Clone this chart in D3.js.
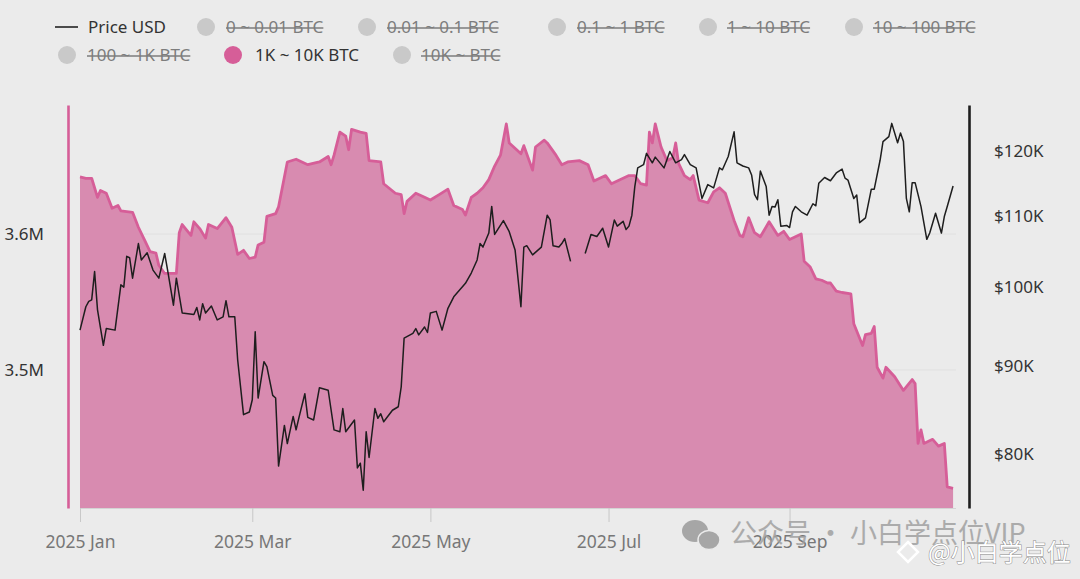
<!DOCTYPE html>
<html><head><meta charset="utf-8">
<script src="https://cdn.jsdelivr.net/npm/d3@7"></script>
<style>
html,body{margin:0;padding:0;background:#ebebeb;}
svg{display:block;font-family:"Noto Sans","Open Sans",sans-serif;}
</style></head><body>
<svg id="chart" width="1080" height="579"></svg>
<script>
// Holdings of the 1K ~ 10K BTC cohort (millions of BTC)
const holdDates = ["2025-01-01","2025-01-03","2025-01-05","2025-01-07","2025-01-08","2025-01-10","2025-01-12","2025-01-14","2025-01-15","2025-01-19","2025-01-21","2025-01-23","2025-01-25","2025-01-27","2025-01-28","2025-01-30","2025-02-03","2025-02-04","2025-02-05","2025-02-08","2025-02-09","2025-02-11","2025-02-13","2025-02-14","2025-02-17","2025-02-20","2025-02-22","2025-02-24","2025-02-26","2025-02-28","2025-03-02","2025-03-03","2025-03-05","2025-03-06","2025-03-09","2025-03-10","2025-03-13","2025-03-16","2025-03-20","2025-03-24","2025-03-27","2025-03-28","2025-03-29","2025-03-31","2025-04-02","2025-04-03","2025-04-04","2025-04-07","2025-04-09","2025-04-10","2025-04-14","2025-04-15","2025-04-19","2025-04-21","2025-04-22","2025-04-23","2025-04-26","2025-04-29","2025-05-01","2025-05-04","2025-05-07","2025-05-09","2025-05-12","2025-05-13","2025-05-15","2025-05-17","2025-05-19","2025-05-21","2025-05-23","2025-05-25","2025-05-27","2025-05-28","2025-05-31","2025-06-01","2025-06-02","2025-06-05","2025-06-06","2025-06-09","2025-06-10","2025-06-13","2025-06-15","2025-06-17","2025-06-21","2025-06-24","2025-06-26","2025-06-30","2025-07-02","2025-07-04","2025-07-08","2025-07-10","2025-07-12","2025-07-14","2025-07-15","2025-07-16","2025-07-17","2025-07-19","2025-07-21","2025-07-23","2025-07-24","2025-07-25","2025-07-27","2025-07-29","2025-07-30","2025-08-01","2025-08-04","2025-08-06","2025-08-08","2025-08-10","2025-08-13","2025-08-15","2025-08-16","2025-08-18","2025-08-20","2025-08-22","2025-08-25","2025-08-28","2025-08-30","2025-09-01","2025-09-05","2025-09-06","2025-09-08","2025-09-10","2025-09-12","2025-09-14","2025-09-15","2025-09-17","2025-09-19","2025-09-22","2025-09-23","2025-09-26","2025-09-27","2025-09-29","2025-09-30","2025-10-01","2025-10-03","2025-10-04","2025-10-07","2025-10-10","2025-10-13","2025-10-14","2025-10-15","2025-10-16","2025-10-17","2025-10-20","2025-10-22","2025-10-24","2025-10-25","2025-10-27"];
const holdValues = [3.642,3.641,3.641,3.627,3.632,3.630,3.619,3.621,3.617,3.616,3.605,3.596,3.587,3.586,3.577,3.571,3.571,3.601,3.607,3.599,3.609,3.604,3.597,3.607,3.604,3.612,3.605,3.585,3.588,3.582,3.583,3.592,3.594,3.613,3.615,3.620,3.653,3.655,3.651,3.653,3.657,3.651,3.658,3.675,3.672,3.662,3.677,3.675,3.674,3.654,3.653,3.637,3.630,3.629,3.615,3.624,3.630,3.627,3.625,3.629,3.633,3.621,3.618,3.614,3.627,3.630,3.634,3.640,3.650,3.658,3.681,3.667,3.661,3.659,3.665,3.647,3.664,3.669,3.667,3.658,3.651,3.653,3.654,3.651,3.639,3.643,3.637,3.639,3.643,3.643,3.637,3.636,3.675,3.667,3.681,3.664,3.654,3.656,3.667,3.652,3.643,3.640,3.643,3.625,3.623,3.631,3.634,3.630,3.610,3.599,3.598,3.612,3.601,3.598,3.609,3.599,3.602,3.596,3.600,3.580,3.576,3.567,3.566,3.564,3.564,3.558,3.557,3.556,3.534,3.518,3.526,3.527,3.532,3.502,3.494,3.502,3.495,3.485,3.493,3.490,3.446,3.456,3.446,3.449,3.444,3.446,3.414,3.413];

// BTC price (thousands of USD); null = missing day
const priceDates = ["2025-01-01","2025-01-03","2025-01-04","2025-01-05","2025-01-06","2025-01-07","2025-01-09","2025-01-10","2025-01-13","2025-01-15","2025-01-16","2025-01-17","2025-01-18","2025-01-19","2025-01-21","2025-01-22","2025-01-24","2025-01-26","2025-01-28","2025-01-30","2025-01-31","2025-02-02","2025-02-03","2025-02-05","2025-02-09","2025-02-10","2025-02-11","2025-02-12","2025-02-13","2025-02-15","2025-02-17","2025-02-19","2025-02-20","2025-02-21","2025-02-23","2025-02-24","2025-02-26","2025-02-28","2025-03-01","2025-03-02","2025-03-03","2025-03-05","2025-03-06","2025-03-08","2025-03-09","2025-03-10","2025-03-12","2025-03-13","2025-03-15","2025-03-16","2025-03-17","2025-03-19","2025-03-20","2025-03-22","2025-03-24","2025-03-27","2025-03-29","2025-03-31","2025-04-01","2025-04-02","2025-04-05","2025-04-06","2025-04-07","2025-04-08","2025-04-09","2025-04-10","2025-04-12","2025-04-13","2025-04-14","2025-04-15","2025-04-18","2025-04-20","2025-04-21","2025-04-22","2025-04-25","2025-04-26","2025-04-27","2025-04-29","2025-04-30","2025-05-01","2025-05-03","2025-05-05","2025-05-07","2025-05-09","2025-05-13","2025-05-15","2025-05-17","2025-05-18","2025-05-19","2025-05-21","2025-05-22","2025-05-23","2025-05-26","2025-05-28","2025-05-30","2025-06-01","2025-06-02","2025-06-03","2025-06-05","2025-06-08","2025-06-10","2025-06-11","2025-06-12","2025-06-14","2025-06-15","2025-06-16","2025-06-18","2025-06-20","2025-06-23","2025-06-25","2025-06-27","2025-06-29","2025-07-01","2025-07-03","2025-07-04","2025-07-06","2025-07-07","2025-07-08","2025-07-09","2025-07-10","2025-07-11","2025-07-13","2025-07-14","2025-07-16","2025-07-17","2025-07-20","2025-07-22","2025-07-24","2025-07-26","2025-07-27","2025-07-29","2025-07-31","2025-08-02","2025-08-04","2025-08-06","2025-08-08","2025-08-09","2025-08-11","2025-08-13","2025-08-14","2025-08-16","2025-08-18","2025-08-19","2025-08-20","2025-08-21","2025-08-22","2025-08-24","2025-08-25","2025-08-26","2025-08-27","2025-08-28","2025-08-29","2025-08-31","2025-09-01","2025-09-02","2025-09-03","2025-09-05","2025-09-07","2025-09-09","2025-09-10","2025-09-11","2025-09-13","2025-09-15","2025-09-17","2025-09-19","2025-09-20","2025-09-21","2025-09-23","2025-09-24","2025-09-25","2025-09-27","2025-09-29","2025-09-30","2025-10-02","2025-10-03","2025-10-05","2025-10-06","2025-10-08","2025-10-09","2025-10-10","2025-10-11","2025-10-12","2025-10-13","2025-10-14","2025-10-16","2025-10-18","2025-10-19","2025-10-21","2025-10-23","2025-10-24","2025-10-25","2025-10-27"];
const priceValues = [94.4,97.4,98.1,98.3,102.1,97.0,92.5,94.6,94.4,100.3,100.0,104.2,104.0,101.2,106.0,103.7,104.7,102.3,101.2,104.6,102.3,97.6,101.2,96.6,96.4,97.3,95.7,97.8,96.6,97.5,95.7,96.1,98.2,96.1,96.1,90.7,84.3,84.6,86.0,94.2,86.2,90.5,89.9,86.5,86.2,78.7,83.1,81.1,84.1,82.6,84.0,86.7,84.0,83.7,87.4,87.1,82.6,82.4,85.0,82.4,83.7,78.5,79.0,76.2,82.4,79.6,85.0,83.9,84.4,83.5,84.8,85.2,87.5,93.4,94.0,94.6,93.8,94.8,94.1,96.6,96.8,94.4,97.2,98.7,100.5,101.9,103.7,106.0,105.5,107.5,111.4,107.3,109.3,107.7,105.1,97.4,105.5,105.7,104.4,105.5,110.1,109.4,105.7,105.5,106.0,106.7,103.5,null,104.6,107.3,107.0,108.2,105.5,109.4,108.5,109.2,108.0,108.5,110.1,114.4,117.3,117.8,119.6,118.1,119.0,117.3,119.9,118.1,118.6,119.4,117.8,117.3,112.6,114.7,114.2,117.3,117.0,119.1,123.1,118.1,117.6,117.3,116.2,113.2,112.4,116.8,114.4,110.1,111.4,111.3,112.4,108.5,108.6,108.3,110.6,111.4,110.6,110.1,111.8,111.5,114.9,115.8,115.3,116.5,117.1,115.7,115.4,112.6,113.1,109.0,109.7,114.0,114.0,118.5,121.5,122.3,124.5,121.3,122.9,121.5,112.6,110.6,115.0,115.0,111.4,106.6,107.5,110.4,107.5,109.9,111.4,114.5];

const monthTicks = ["2025-01-01","2025-03-01","2025-05-01","2025-07-01","2025-09-01"];
const leftTicks = [3.5, 3.6];
const rightTicks = [80, 90, 100, 110, 120];
const legendRow1 = ["Price USD","0 ~ 0.01 BTC","0.01 ~ 0.1 BTC","0.1 ~ 1 BTC","1 ~ 10 BTC","10 ~ 100 BTC"];
const legendRow2 = ["100 ~ 1K BTC","1K ~ 10K BTC","10K ~ BTC"];
const activeSeries = ["Price USD","1K ~ 10K BTC"];

const W = 1080, H = 579;
const PINK_FILL = "#d88bb0", PINK_LINE = "#d65e98", GREY_DOT = "#c9c9c9";
const FONT = "'Noto Sans','Open Sans',sans-serif";
const svg = d3.select("#chart");
svg.append("rect").attr("width", W).attr("height", H).attr("fill", "#ebebeb");

const parse = d3.utcParse("%Y-%m-%d");
const x = d3.scaleUtc().domain([parse("2025-01-01"), parse("2025-10-28")]).range([80, 956]);
const yL = d3.scaleLinear().domain([3.3985, 3.6949]).range([508, 105]);
const yR = d3.scaleLog().domain([74.4, 127.6]).range([508, 105]);

const hold = holdDates.map((d, i) => ({date: parse(d), v: holdValues[i]}));
const price = priceDates.map((d, i) => ({date: parse(d), v: priceValues[i]}));

// gridlines
svg.append("g").selectAll("line").data(leftTicks).join("line")
  .attr("x1", 80).attr("x2", 956)
  .attr("y1", d => yL(d)).attr("y2", d => yL(d))
  .attr("stroke", "#e0e0e0").attr("stroke-width", 1);

// area
svg.append("path").datum(hold)
  .attr("d", d3.area().x(d => x(d.date)).y0(yL(yL.domain()[0])).y1(d => yL(d.v)))
  .attr("fill", PINK_FILL);
svg.append("path").datum(hold)
  .attr("d", d3.line().x(d => x(d.date)).y(d => yL(d.v)))
  .attr("fill", "none").attr("stroke", PINK_LINE).attr("stroke-width", 2.8)
  .attr("stroke-linejoin", "round");

// price line
svg.append("path").datum(price)
  .attr("d", d3.line().defined(d => d.v != null).x(d => x(d.date)).y(d => yR(d.v)))
  .attr("fill", "none").attr("stroke", "#1e1e1e").attr("stroke-width", 1.5)
  .attr("stroke-linejoin", "round");

// x axis
const fmt = d3.utcFormat("%Y %b");
const xAxis = svg.append("g").attr("transform", "translate(0,508)")
  .call(d3.axisBottom(x).tickValues(monthTicks.map(parse)).tickFormat(fmt).tickSize(14).tickPadding(14).tickSizeOuter(0));
xAxis.select(".domain").attr("stroke", "#d4d4d4").attr("d", "M80,0.5H956");
xAxis.selectAll(".tick line").attr("stroke", "#c8c8c8");
xAxis.selectAll("text").attr("fill", "#777").attr("font-size", 17.5).attr("font-family", FONT);

// left axis
const lAxis = svg.append("g").attr("transform", "translate(68,0)")
  .call(d3.axisLeft(yL).tickValues(leftTicks).tickFormat(d => d.toFixed(1) + "M").tickSize(0).tickPadding(24).tickSizeOuter(0));
lAxis.select(".domain").attr("stroke", PINK_LINE).attr("stroke-width", 2.6);
lAxis.selectAll("text").attr("fill", "#333").attr("font-size", 17).attr("font-family", FONT);

// right axis
const rAxis = svg.append("g").attr("transform", "translate(969,0)")
  .call(d3.axisRight(yR).tickValues(rightTicks).tickFormat(d => "$" + d + "K").tickSize(0).tickPadding(25).tickSizeOuter(0));
rAxis.select(".domain").attr("stroke", "#1e1e1e").attr("stroke-width", 2.6);
rAxis.selectAll("text").attr("fill", "#333").attr("font-size", 17).attr("font-family", FONT);

// legend
const legendPos1 = [[55, 88], [206, 226], [367, 387], [557, 577], [708, 727], [854, 873]];
const legendPos2 = [[67, 87], [233, 255], [402, 421]];
function drawLegend(labels, pos, cy) {
  labels.forEach((lab, i) => {
    const g = svg.append("g");
    const active = activeSeries.includes(lab);
    if (lab === "Price USD") {
      g.append("line").attr("x1", pos[i][0]).attr("x2", pos[i][0] + 23)
        .attr("y1", cy).attr("y2", cy).attr("stroke", "#222").attr("stroke-width", 1.6);
    } else {
      g.append("circle").attr("cx", pos[i][0]).attr("cy", cy).attr("r", 9)
        .attr("fill", active ? PINK_LINE : GREY_DOT);
    }
    const t = g.append("text").attr("x", pos[i][1]).attr("y", cy).attr("dy", "0.35em")
      .attr("font-size", 17).attr("fill", active ? "#333" : "#7d7d7d").text(lab);
    if (!active) {
      const w = t.node().getComputedTextLength();
      g.append("line").attr("x1", pos[i][1]).attr("x2", pos[i][1] + w)
        .attr("y1", cy + 1).attr("y2", cy + 1).attr("stroke", "#7d7d7d").attr("stroke-width", 1.3);
    }
  });
}
drawLegend(legendRow1, legendPos1, 27);
drawLegend(legendRow2, legendPos2, 55);

// watermarks (present in the reference image)
const wm = svg.append("g");
wm.append("ellipse").attr("cx", 695).attr("cy", 531).attr("rx", 13).attr("ry", 11).attr("fill", "#a6a6a6");
wm.append("ellipse").attr("cx", 709).attr("cy", 540).attr("rx", 11).attr("ry", 9.5).attr("fill", "#a6a6a6").attr("stroke", "#ebebeb").attr("stroke-width", 1.5);
wm.append("text").attr("x", 730).attr("y", 543).attr("font-size", 27)
  .attr("font-family", "'Noto Sans CJK SC',sans-serif").attr("fill", "#a0a0a0").attr("opacity", 0.85)
  .text("公众号 · 小白学点位VIP");
wm.append("path").attr("d", "M908,542 L918,552 L908,562 L898,552 Z")
  .attr("fill", "none").attr("stroke", "#fff").attr("stroke-width", 2.5);
wm.append("text").attr("x", 928).attr("y", 561).attr("font-size", 24)
  .attr("font-family", "'Noto Sans CJK SC',sans-serif").attr("fill", "#fff")
  .attr("stroke", "#8a8a8a").attr("stroke-width", 1).attr("paint-order", "stroke")
  .text("@小白学点位");
</script>
</body></html>
